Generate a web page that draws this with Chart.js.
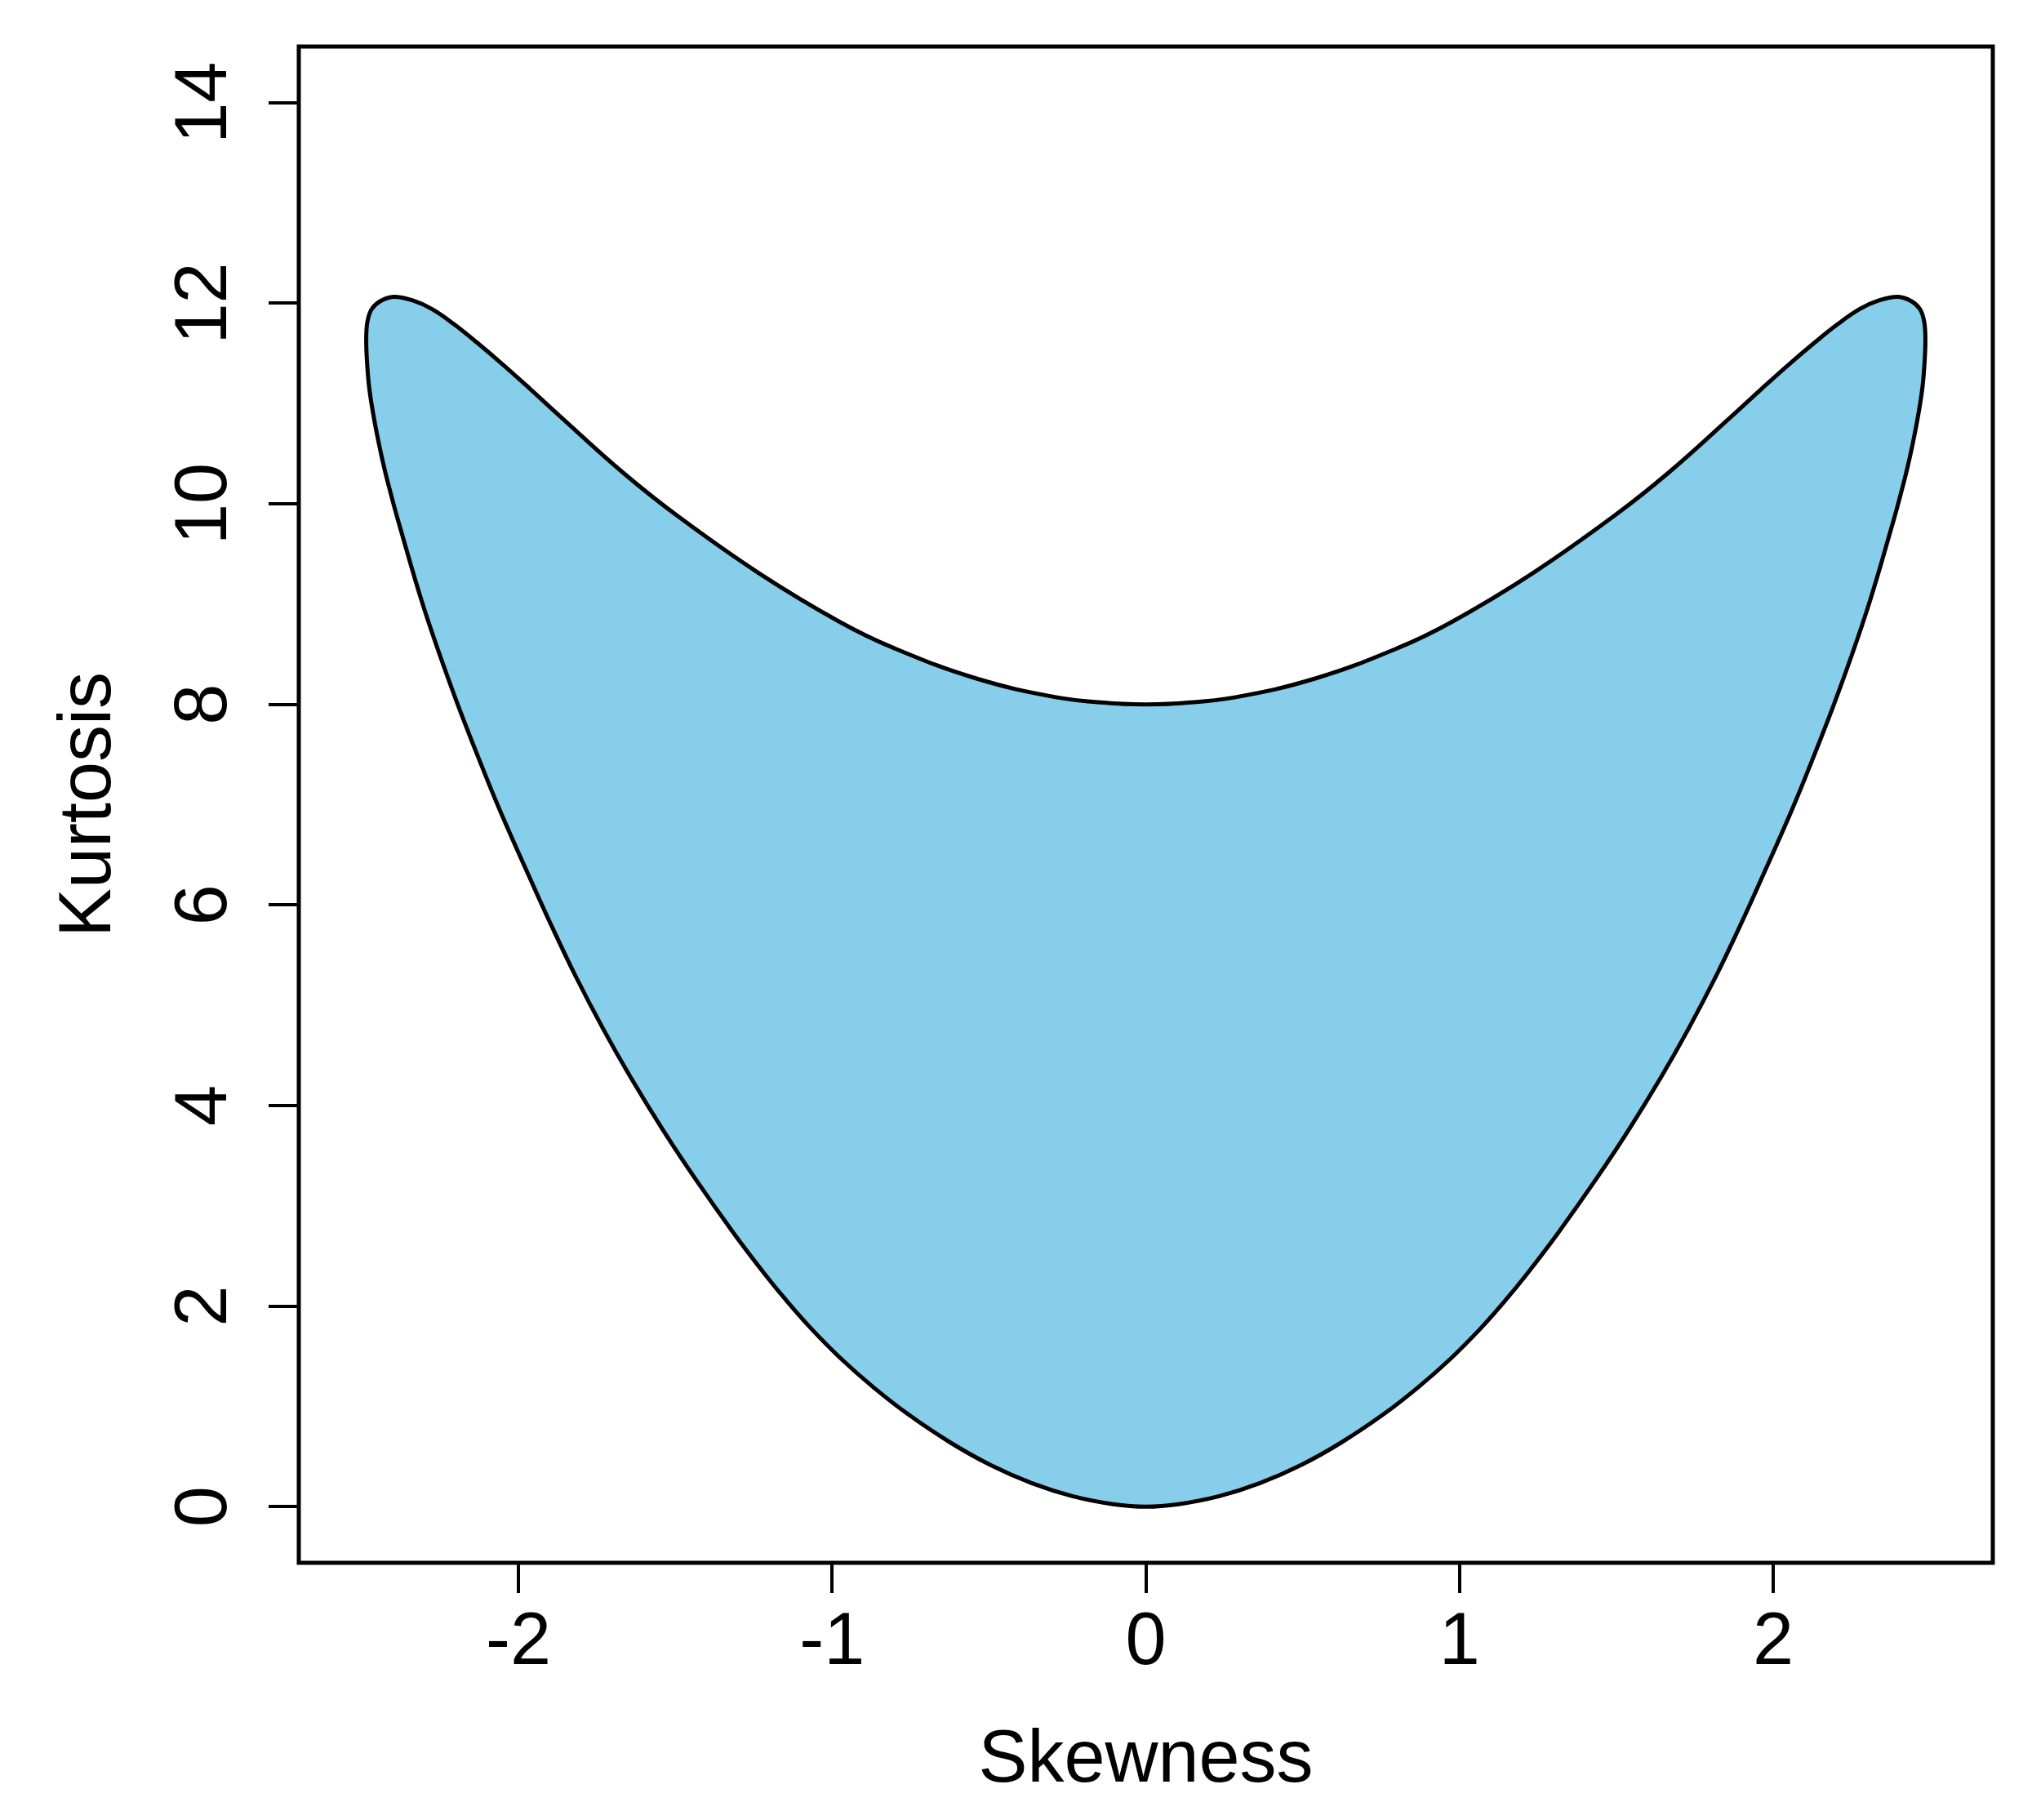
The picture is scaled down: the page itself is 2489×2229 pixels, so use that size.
<!DOCTYPE html>
<html>
<head>
<meta charset="utf-8">
<script src="https://cdn.jsdelivr.net/npm/chart.js@4.4.1/dist/chart.umd.min.js"></script>
<style>
  html, body { margin: 0; padding: 0; background: #ffffff; }
  canvas { display: block; }
</style>
</head>
<body>
<canvas id="c" width="2489" height="2229"></canvas>
<script>
// Boundary of the region, traced around the loop (skewness, kurtosis)
const skewness = [
  0, -0.100, -0.283, -0.542, -0.802, -0.974, -1.234, -1.493, -1.666, -1.868,
  -1.964, -2.050, -2.129, -2.207, -2.276, -2.337, -2.398, -2.441, -2.468, -2.481,
  -2.485, -2.483, -2.476, -2.463, -2.446, -2.427, -2.405, -2.385, -2.300, -2.203,
  -2.102, -2.042, -1.968, -1.894, -1.816, -1.729, -1.642, -1.538, -1.433, -1.312,
  -1.216, -1.147, -1.068, -0.973, -0.868, -0.755, -0.625, -0.495, -0.364, -0.234,
  -0.104, 0,
  0.104, 0.234, 0.364, 0.495, 0.625, 0.755, 0.868, 0.973, 1.068, 1.147,
  1.216, 1.312, 1.433, 1.538, 1.642, 1.729, 1.816, 1.894, 1.968, 2.042,
  2.102, 2.203, 2.300, 2.385, 2.405, 2.427, 2.446, 2.463, 2.476, 2.483,
  2.485, 2.481, 2.468, 2.441, 2.398, 2.337, 2.276, 2.207, 2.129, 2.050,
  1.964, 1.868, 1.666, 1.493, 1.234, 0.974, 0.802, 0.542, 0.283, 0.100,
  0
];
const kurtosis = [
  8.00, 8.01, 8.07, 8.26, 8.56, 8.82, 9.31, 9.88, 10.31, 10.875,
  11.15, 11.39, 11.60, 11.795, 11.943, 12.028, 12.065, 12.02, 11.94, 11.82,
  11.66, 11.44, 11.17, 10.90, 10.62, 10.35, 10.08, 9.85, 8.95, 8.08,
  7.27, 6.82, 6.30, 5.79, 5.28, 4.76, 4.28, 3.75, 3.255, 2.72,
  2.325, 2.06, 1.78, 1.48, 1.19, 0.915, 0.643, 0.415, 0.235, 0.105,
  0.025, 0.00,
  0.025, 0.105, 0.235, 0.415, 0.643, 0.915, 1.19, 1.48, 1.78, 2.06,
  2.325, 2.72, 3.255, 3.75, 4.28, 4.76, 5.28, 5.79, 6.30, 6.82,
  7.27, 8.08, 8.95, 9.85, 10.08, 10.35, 10.62, 10.90, 11.17, 11.44,
  11.66, 11.82, 11.94, 12.02, 12.065, 12.028, 11.943, 11.795, 11.60, 11.39,
  11.15, 10.875, 10.31, 9.88, 9.31, 8.82, 8.56, 8.26, 8.07, 8.01,
  8.00
];
const xTickValues = [-2, -1, 0, 1, 2];
const yTickValues = [0, 2, 4, 6, 8, 10, 12, 14];
const xRange = [-2.7, 2.7];
const yRange = [-0.56, 14.56];
const xTitle = 'Skewness';
const yTitle = 'Kurtosis';

const points = skewness.map((s, i) => ({ x: s, y: kurtosis[i] }));
const FONT = '"Liberation Sans", Arial, Helvetica, sans-serif';

const boxPlugin = {
  id: 'box',
  afterDraw(chart) {
    const { ctx, chartArea: a } = chart;
    ctx.save();
    ctx.strokeStyle = '#000000';
    ctx.lineWidth = 5;
    ctx.lineJoin = 'miter';
    ctx.strokeRect(a.left, a.top, a.right - a.left, a.bottom - a.top);
    ctx.restore();
  }
};

new Chart(document.getElementById('c'), {
  type: 'scatter',
  data: {
    datasets: [{
      data: points,
      showLine: true,
      fill: 'shape',
      backgroundColor: '#87CEEB',
      borderColor: '#000000',
      borderWidth: 5,
      borderJoinStyle: 'round',
      tension: 0.4,
      pointRadius: 0,
      pointHoverRadius: 0
    }]
  },
  options: {
    responsive: false,
    devicePixelRatio: 1,
    animation: false,
    events: [],
    layout: { padding: { left: 0, top: 57, right: 48, bottom: 0 } },
    plugins: { legend: { display: false }, tooltip: { enabled: false } },
    scales: {
      x: {
        type: 'linear',
        min: xRange[0],
        max: xRange[1],
        afterBuildTicks: (s) => { s.ticks = xTickValues.map(v => ({ value: v })); },
        afterFit: (s) => { s.height = 315; s.paddingLeft = 0; s.paddingRight = 0; s.paddingTop = 0; s.paddingBottom = 0; },
        border: { display: false },
        grid: { display: true, drawOnChartArea: false, drawTicks: true, tickLength: 37, color: '#000000', lineWidth: 4 },
        ticks: {
          color: '#000000',
          font: { family: FONT, size: 90, lineHeight: 1.2 },
          padding: 8,
          maxRotation: 0,
          minRotation: 0,
          autoSkip: false,
          callback: (v) => String(v)
        },
        title: {
          display: true,
          text: xTitle,
          color: '#000000',
          font: { family: FONT, size: 90, lineHeight: 1.2 },
          padding: { top: 0, bottom: 18 }
        }
      },
      y: {
        type: 'linear',
        min: yRange[0],
        max: yRange[1],
        afterBuildTicks: (s) => { s.ticks = yTickValues.map(v => ({ value: v })); },
        afterFit: (s) => { s.width = 366; s.paddingLeft = 0; s.paddingRight = 0; s.paddingTop = 0; s.paddingBottom = 0; },
        border: { display: false },
        grid: { display: true, drawOnChartArea: false, drawTicks: true, tickLength: 37, color: '#000000', lineWidth: 4 },
        ticks: {
          color: '#000000',
          font: { family: FONT, size: 90, lineHeight: 1.2 },
          padding: 27,
          minRotation: 90,
          maxRotation: 90,
          crossAlign: 'center',
          autoSkip: false,
          callback: (v) => String(v)
        },
        title: {
          display: true,
          text: yTitle,
          color: '#000000',
          font: { family: FONT, size: 90, lineHeight: 1.2 },
          padding: { top: 56, bottom: 0 }
        }
      }
    }
  },
  plugins: [boxPlugin]
});
</script>
</body>
</html>
